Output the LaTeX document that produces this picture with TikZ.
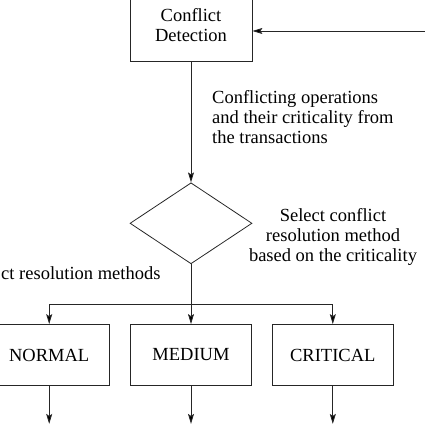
\documentclass[tikz,border=0pt]{standalone}
\usepackage{fontspec}
\setmainfont{Liberation Serif}
\usetikzlibrary{shapes.geometric,positioning,arrows.meta}

\tikzset{
  flow/.style={draw=black!85,line width=0.8pt},
  arr/.style={flow,-{Stealth[length=10pt,width=6pt,inset=2pt,fill=black]}},
  stage/.style={draw=black!85,line width=0.8pt,rectangle,minimum width=121pt,minimum height=61pt,inner sep=0pt},
  choice/.style={draw=black!85,line width=0.8pt,diamond,minimum width=122pt,minimum height=81pt,inner sep=0pt},
  note/.style={inner sep=0pt,font=\fontsize{18.5}{20}\selectfont}
}

\begin{document}
\begin{tikzpicture}[x=1pt,y=1pt,font=\fontsize{18.5}{20}\selectfont]
                \useasboundingbox (0,0) rectangle (425,425);
                \node[stage,minimum width=122pt,minimum height=72pt,align=center] (detect) at (191,400) {Conflict\\Detection};
                \node[choice,below=121pt of detect] (select) {};
                \node[stage] (medium) at (191,70) {MEDIUM};
                \node[stage,left=20pt of medium] (normal) {NORMAL};
                \node[stage,right=20pt of medium] (critical) {CRITICAL};
                \coordinate (incoming) at (425,394);
                \coordinate (split) at (191,121);
                \coordinate[below=38pt of normal.south] (outN);
                \coordinate[below=38pt of medium.south] (outM);
                \coordinate[below=38pt of critical.south] (outC);
                % texts
                \node[note,align=left,anchor=west] (ops) at (212,308) {Conflicting operations\\and their criticality from\\the transactions};
                \node[note,align=center] (rule) at (333,188) {Select conflict\\resolution method\\based on the criticality};
                \node[note,anchor=west] (methods) at (1,152) {ct resolution methods};
                % connectors
                \draw[arr] (incoming) -- (incoming -| detect.east);
                \draw[arr] (detect) -- (select);
                \draw[flow] (select.south) -- (split);
                \draw[arr] (split) -| (normal);
                \draw[arr] (split) -- (medium);
                \draw[arr] (split) -| (critical);
                \draw[arr] (normal) -- (outN);
                \draw[arr] (medium) -- (outM);
                \draw[arr] (critical) -- (outC);
            \end{tikzpicture}
\end{document}
